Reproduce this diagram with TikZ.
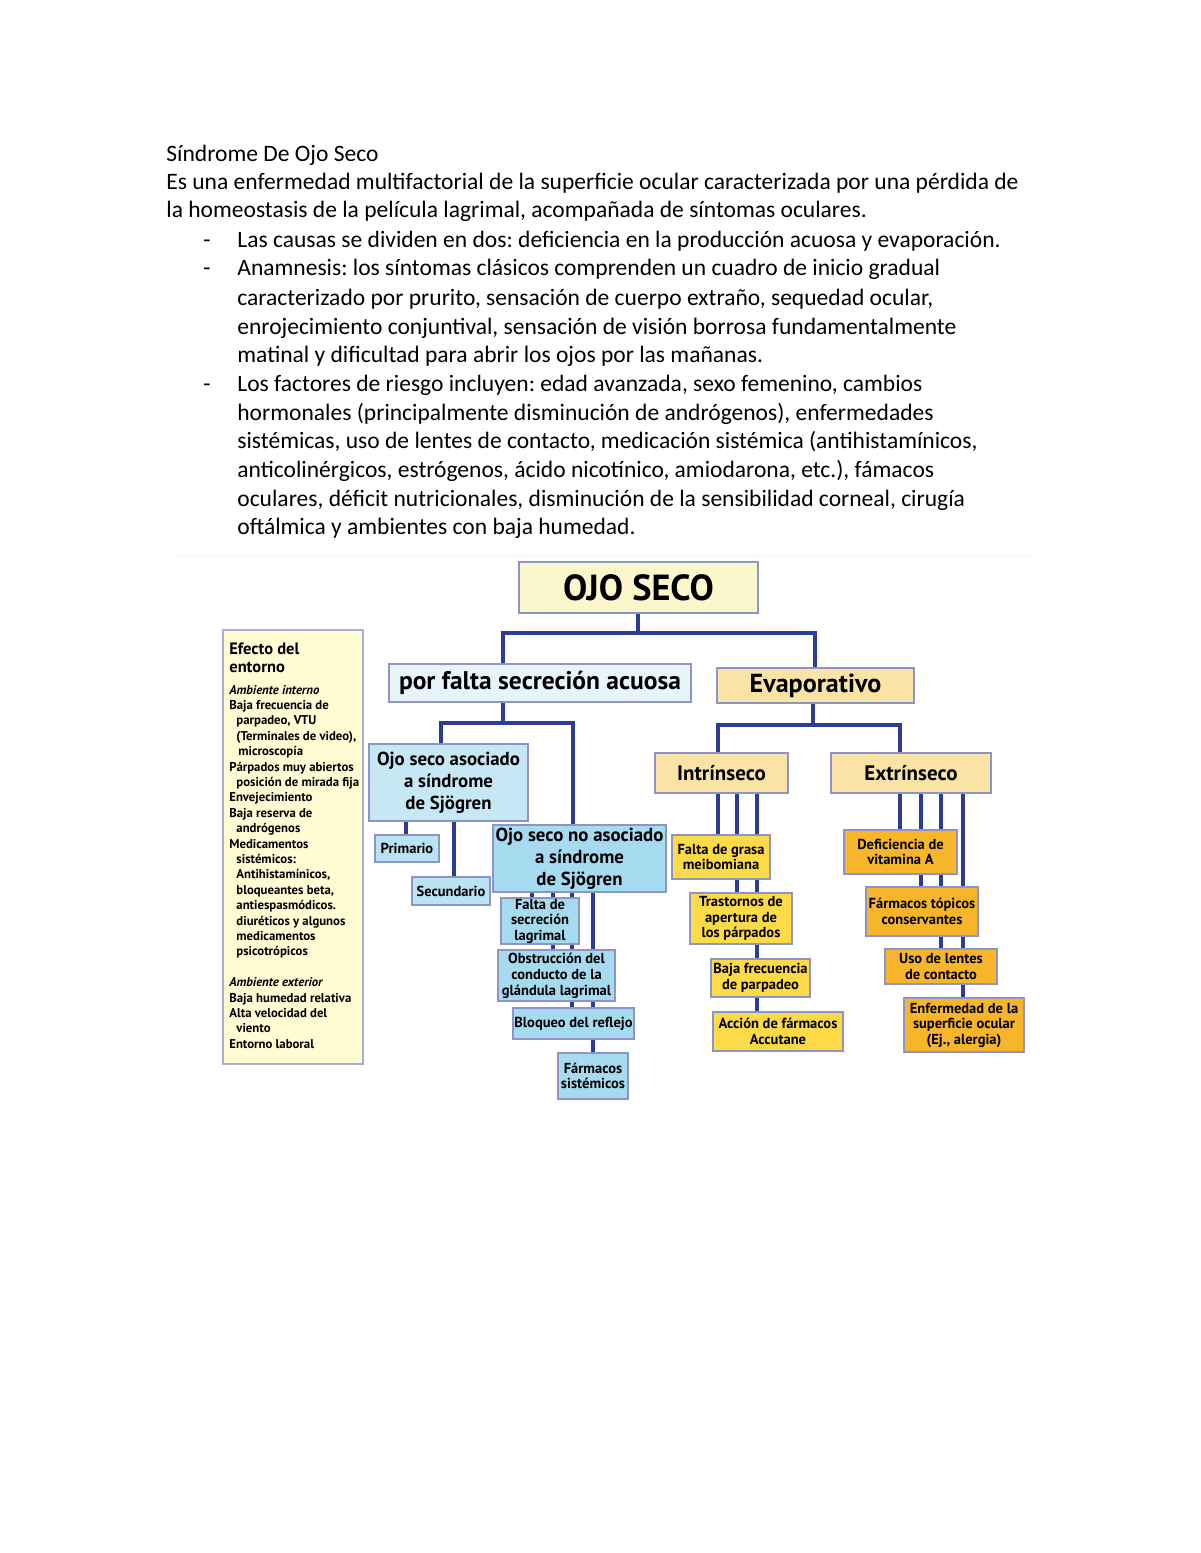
\documentclass[tikz,border=0pt]{standalone}
\usepackage{fontspec}
\setmainfont{Carlito}
\newfontfamily\dfont{PT Sans}
\frenchspacing
\pgfdeclarelayer{connlayer}
\pgfsetlayers{connlayer,main}
\definecolor{bxb}{HTML}{8C95C6}
\definecolor{cn}{HTML}{2D3C94}
\definecolor{ojof}{HTML}{FBF6CC}
\definecolor{faltaf}{HTML}{E7F4FA}
\definecolor{asocf}{HTML}{C6E7F4}
\definecolor{noasf}{HTML}{A6DBEF}
\definecolor{subbf}{HTML}{B9E2F2}
\definecolor{evapf}{HTML}{FBE2A5}
\definecolor{yelf}{HTML}{FDDA47}
\definecolor{orf}{HTML}{F7B52C}
\definecolor{leftf}{HTML}{FFFBD2}
\definecolor{leftb}{HTML}{A8AED6}
\newcommand\mybox[8]{\node[box, fill=#2, minimum width={(#5-#3)*0.51pt}, minimum height={(#6-#4)*0.51pt}, #7] (#1) at ({(#3+#5)/2},{(#4+#6)/2}) {#8};}
\begin{document}
\begin{tikzpicture}[x=0.51pt,y=-0.51pt,
  box/.style={draw=bxb, line width=0.8pt, inner sep=0pt, align=center, font=\dfont\bfseries\fontsize{7.4}{7.9}\selectfont},
  conn/.style={draw=cn, line width=1.9pt},
  body/.style={anchor=base west, inner sep=0pt, font=\fontsize{12}{14.6}\selectfont},
  lt/.style={anchor=base west, inner sep=0pt, font=\dfont\bfseries\fontsize{6.5}{7.5}\selectfont}]
\useasboundingbox (0,0) rectangle (1200,1553);

% ---------- body text ----------
\node[body] (t1) at (166,162) {Síndrome De Ojo Seco};
\node[body] (t2) at (166,190) {Es una enfermedad multifactorial de la superficie ocular caracterizada por una pérdida de};
\node[body] (t3) at (166,218) {la homeostasis de la película lagrimal, acompañada de síntomas oculares.};
\node[body] (d1) at (203,247) {-};
\node[body] (t4) at (237,247) {Las causas se dividen en dos: deficiencia en la producción acuosa y evaporación.};
\node[body] (d2) at (203,276) {-};
\node[body] (t5) at (237,276) {Anamnesis: los síntomas clásicos comprenden un cuadro de inicio gradual};
\node[body] (t6) at (237,305) {caracterizado por prurito, sensación de cuerpo extraño, sequedad ocular,};
\node[body] (t7) at (237,334) {enrojecimiento conjuntival, sensación de visión borrosa fundamentalmente};
\node[body] (t8) at (237,362) {matinal y dificultad para abrir los ojos por las mañanas.};
\node[body] (d3) at (203,391) {-};
\node[body] (t9) at (237,391) {Los factores de riesgo incluyen: edad avanzada, sexo femenino, cambios};
\node[body] (t10) at (237,420) {hormonales (principalmente disminución de andrógenos), enfermedades};
\node[body] (t11) at (237,448) {sistémicas, uso de lentes de contacto, medicación sistémica (antihistamínicos,};
\node[body] (t12) at (237,477) {anticolinérgicos, estrógenos, ácido nicotínico, amiodarona, etc.), fámacos};
\node[body] (t13) at (237,506) {oculares, déficit nutricionales, disminución de la sensibilidad corneal, cirugía};
\node[body] (t14) at (237,534) {oftálmica y ambientes con baja humedad.};

\draw[black!4, line width=0.5pt] (175,556) -- (1030,556);

% ---------- left box ----------
\node[draw=leftb, fill=leftf, line width=0.8pt, minimum width={140*0.51pt}, minimum height={434*0.51pt}, inner sep=0pt] (left) at (293,847) {};
\node[anchor=base west, inner sep=0pt, font=\dfont\bfseries\fontsize{8.4}{9.2}\selectfont] (lh1) at (229,654) {Efecto del};
\node[anchor=base west, inner sep=0pt, font=\dfont\bfseries\fontsize{8.4}{9.2}\selectfont] (lh2) at (229,672) {entorno};
\foreach \txt [count=\i] in {{\itshape Ambiente interno}, {Baja frecuencia de}, {\hspace*{3.6pt}parpadeo, VTU}, {\hspace*{3.6pt}(Terminales de video),}, {\hspace*{4.6pt}microscopía}, {Párpados muy abiertos}, {\hspace*{3.6pt}posición de mirada fija}, {Envejecimiento}, {Baja reserva de}, {\hspace*{3.6pt}andrógenos}, {Medicamentos}, {\hspace*{3.6pt}sistémicos:}, {\hspace*{3.6pt}Antihistamínicos,}, {\hspace*{3.6pt}bloqueantes beta,}, {\hspace*{3.6pt}antiespasmódicos.}, {\hspace*{3.6pt}diuréticos y algunos}, {\hspace*{3.6pt}medicamentos}, {\hspace*{3.6pt}psicotrópicos}}
  \node[lt] (li\i) at (229,{694+(\i-1)*15.4}) {\txt};
\foreach \txt [count=\i] in {{\itshape Ambiente exterior}, {Baja humedad relativa}, {Alta velocidad del}, {\hspace*{3.6pt}viento}, {Entorno laboral}}
  \node[lt] (le\i) at (229,{986.6+(\i-1)*15.4}) {\txt};

% ---------- boxes ----------
\mybox{ojo}{ojof}{519}{562}{758}{613}{font=\dfont\bfseries\fontsize{18.5}{20}\selectfont}{OJO SECO}
\mybox{falta}{faltaf}{389}{664}{691}{702}{font=\dfont\bfseries\fontsize{13}{15}\selectfont}{por falta secreción acuosa}
\mybox{evap}{evapf}{717}{668}{914}{703}{font=\dfont\bfseries\fontsize{13.3}{15}\selectfont}{Evaporativo}
\mybox{asoc}{asocf}{369}{744}{528}{821}{font=\dfont\bfseries\fontsize{9.6}{11.2}\selectfont}{Ojo seco asociado\\a síndrome\\de Sjögren}
\mybox{noasoc}{noasf}{493}{825}{666}{892}{font=\dfont\bfseries\fontsize{9.6}{11.2}\selectfont}{Ojo seco no asociado\\a síndrome\\de Sjögren}
\mybox{prim}{subbf}{375}{835}{439}{862}{}{Primario}
\mybox{sec}{subbf}{412}{877}{490}{905}{}{Secundario}
\mybox{fsec}{noasf}{501}{898}{579}{944}{}{Falta de\\secreción\\lagrimal}
\mybox{obst}{noasf}{498}{950}{615}{1001}{font=\dfont\bfseries\fontsize{7.4}{8.2}\selectfont}{Obstrucción del\\conducto de la\\glándula lagrimal}
\mybox{bloq}{noasf}{513}{1008}{634}{1039}{}{Bloqueo del reflejo}
\mybox{farm}{noasf}{558}{1053}{628}{1099}{}{Fármacos\\sistémicos}
\mybox{intr}{evapf}{655}{753}{788}{793}{font=\dfont\bfseries\fontsize{10.7}{12}\selectfont}{Intrínseco}
\mybox{extr}{evapf}{831}{753}{991}{793}{font=\dfont\bfseries\fontsize{10.7}{12}\selectfont}{Extrínseco}
\mybox{fgrasa}{yelf}{672}{835}{770}{879}{}{Falta de grasa\\meibomiana}
\mybox{trast}{yelf}{690}{893}{792}{944}{}{Trastornos de\\apertura de\\los párpados}
\mybox{baja}{yelf}{711}{959}{810}{997}{}{Baja frecuencia\\de parpadeo}
\mybox{accion}{yelf}{713}{1012}{843}{1051}{}{Acción de fármacos\\Accutane}
\mybox{def}{orf}{844}{830}{957}{874}{}{Deficiencia de\\vitamina A}
\mybox{ftop}{orf}{866}{887}{978}{936}{}{Fármacos tópicos\\conservantes}
\mybox{lentes}{orf}{885}{949}{997}{984}{}{Uso de lentes\\de contacto}
\mybox{enf}{orf}{904}{998}{1024}{1052}{}{Enfermedad de la\\superficie ocular\\(Ej., alergia)}

% ---------- connectors ----------
\begin{pgfonlayer}{connlayer}
\coordinate (j1) at (638,633);
\coordinate (j2) at (503,723);
\coordinate (j3) at (813,725);
\draw[conn] (ojo.south -| j1) -- (j1);
\draw[conn] (falta.north -| 503,0) |- (j1) -| (evap.north -| 815,0);
\draw[conn] (falta.south -| j2) -- (j2);
\draw[conn] (asoc.north -| 441,0) |- (j2) -| (noasoc.north -| 573,0);
\draw[conn] (asoc.south -| 406,0) -- (prim.north -| 406,0);
\draw[conn] (asoc.south -| 454,0) -- (sec.north -| 454,0);
\draw[conn] (noasoc.south -| 532,0) -- (fsec.north -| 532,0);
\draw[conn] (noasoc.south -| 553,0) -- (obst.north -| 553,0);
\draw[conn] (noasoc.south -| 572,0) -- (bloq.north -| 572,0);
\draw[conn] (noasoc.south -| 593,0) -- (farm.north -| 593,0);
\draw[conn] (evap.south -| j3) -- (j3);
\draw[conn] (intr.north -| 718,0) |- (j3) -| (extr.north -| 900,0);
\draw[conn] (intr.south -| 718,0) -- (fgrasa.north -| 718,0);
\draw[conn] (intr.south -| 737,0) -- (trast.north -| 737,0);
\draw[conn] (intr.south -| 757,0) -- (baja.north -| 757,0);
\draw[conn] (baja.south -| 757,0) -- (accion.north -| 757,0);
\draw[conn] (extr.south -| 900,0) -- (def.north -| 900,0);
\draw[conn] (extr.south -| 921,0) -- (ftop.north -| 921,0);
\draw[conn] (extr.south -| 941,0) -- (lentes.north -| 941,0);
\draw[conn] (extr.south -| 963,0) -- (enf.north -| 963,0);
\end{pgfonlayer}
\end{tikzpicture}
\end{document}
